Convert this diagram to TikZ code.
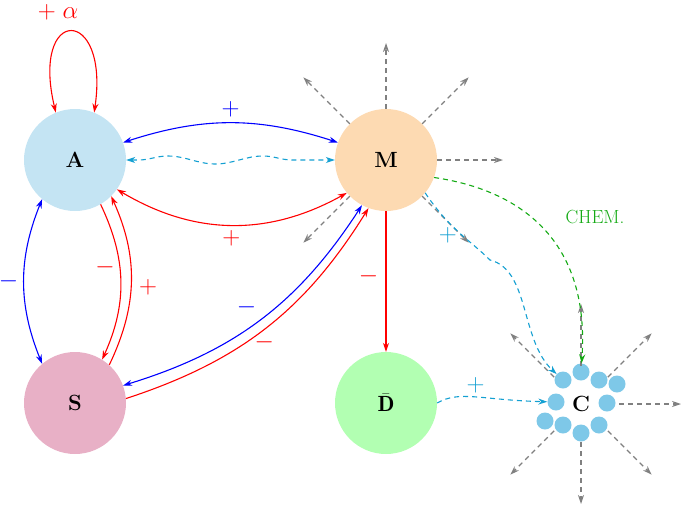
\documentclass[tikz,border=0pt]{standalone}
\usepackage{fontspec}
\usetikzlibrary{arrows.meta,decorations.pathmorphing,calc}
\definecolor{cA}{RGB}{196,228,243}
\definecolor{cM}{RGB}{253,218,178}
\definecolor{cS}{RGB}{232,176,198}
\definecolor{cD}{RGB}{178,255,178}
\definecolor{cC}{RGB}{126,200,232}
\definecolor{cyn}{RGB}{20,160,210}
\definecolor{grn}{RGB}{20,170,20}
\begin{document}
\begin{tikzpicture}[x=1pt,y=-1pt,
  big/.style={circle,minimum size=102pt,inner sep=0pt,font=\fontsize{22}{26}\selectfont\bfseries},
  dot/.style={circle,fill=cC,minimum size=17pt,inner sep=0pt},
  arr/.style={-{Stealth[length=9pt,width=6pt]},line width=1.1pt},
  barr/.style={{Stealth[length=9pt,width=6pt]}-{Stealth[length=9pt,width=6pt]},line width=1.1pt},
  gr/.style={arr,gray,dash pattern=on 5pt off 4pt},
  dsh/.style={dash pattern=on 5pt off 4pt},
  lab/.style={font=\fontsize{26}{30}\selectfont}]
\useasboundingbox (0,0) rectangle (685,507);
\node[big,fill=cA] (A) at (75,160) {A};
\node[big,fill=cM] (M) at (386,160) {M};
\node[big,fill=cS] (S) at (75,403) {S};
\node[big,fill=cD] (D) at (386,403) {$\bar{\mathbf{D}}$};
\node[font=\fontsize{22}{26}\selectfont\bfseries] (C) at (581,404) {C};
\foreach \p [count=\i] in {(581,372),(563,380),(599,380),(617,384),(556,402),(607,403),(545,421),(563,425),(581,433),(599,425)}
  \node[dot] (c\i) at \p {};
% gray arrows from M
\foreach \a in {0,45,90,135,225,315}{
  \coordinate (m\a) at ($(M)+(-\a:117)$);
  \draw[gr] (M.\a) -- (m\a);}
% gray arrows from C
\foreach \a in {0,45,90,135,225,270,315}{
  \coordinate (cs\a) at ($(C)+(-\a:38)$);
  \coordinate (ce\a) at ($(C)+(-\a:100)$);
  \draw[gr] (cs\a) -- (ce\a);}
% self loop
\draw[barr,red] (A.112) .. controls (30,5) and (110,5) .. (A.68);
\node[lab,red] (la) at (58,12) {$+\;\alpha$};
% A-M
\draw[barr,blue] (A.20) to[bend left=18] node[lab,above,yshift=2pt]{$+$} (M.160);
\draw[barr,cyn,dsh,decorate,decoration={snake,amplitude=4pt,segment length=95pt,pre length=12pt,post length=12pt}] (A.east) -- (M.west);
\draw[barr,red] (A.-35) to[bend right=30] node[lab,below,yshift=-2pt]{$+$} (M.-140);
% A-S
\draw[barr,blue] (A.-130) to[bend right=22] node[lab,left,xshift=-2pt]{$-$} (S.130);
\draw[arr,red] (A.-60) to[bend left=25] node[lab,left,xshift=-2pt,yshift=14pt]{$-$} (S.58);
\draw[arr,red] (S.48) to[bend right=25] node[lab,right,xshift=4pt,yshift=-6pt]{$+$} (A.-45);
% S-M
\draw[barr,blue] (S.20) to[bend right=20] node[lab,above,xshift=-14pt]{$-$} (M.-118);
\draw[arr,red] (S.5) to[bend right=20] node[lab,below,xshift=-2pt,yshift=-2pt]{$-$} (M.-110);
% M-D
\draw[arr,red] (M) -- node[lab,left,xshift=-4pt,yshift=5pt]{$-$} (D);
% M-C
\draw[arr,cyn,dsh] (M.-40) .. controls (450,230) and (470,240) .. node[lab,left,pos=0.55,xshift=-2pt]{$+$} (490,260) .. controls (530,270) and (520,340) .. (c2);
\draw[arr,grn,dsh] (M.-20) .. controls (520,190) and (590,240) .. (c1);
\node[grn,font=\fontsize{19}{22}\selectfont] (chem) at (595,217) {CHEM.};
% D-C
\draw[arr,cyn,dsh] (D.east) .. controls (460,390) and (480,400) .. node[lab,above,yshift=0pt]{$+$} (c5);
\end{tikzpicture}
\end{document}
